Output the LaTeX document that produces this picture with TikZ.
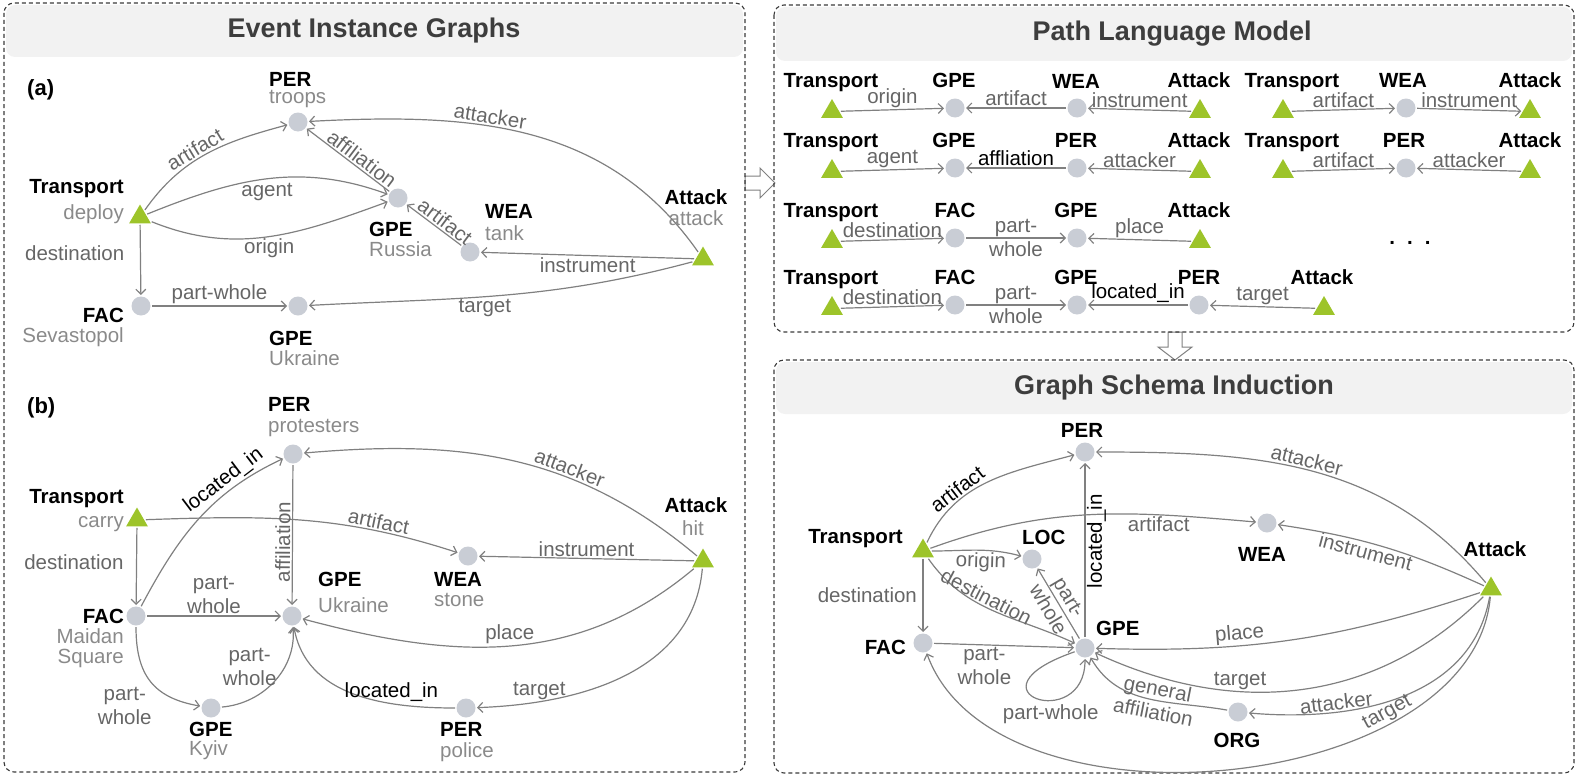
\documentclass[tikz,border=0pt]{standalone}
\usepackage{fontspec}
\setmainfont{Liberation Sans}
\usepackage{tikz}
\usetikzlibrary{arrows.meta,shapes.geometric}
\definecolor{ent_gray}{HTML}{C9CDD5}
\definecolor{evt_green}{HTML}{9DC42A}
\definecolor{edge_gray}{HTML}{808080}
\definecolor{lab_gray}{HTML}{666666}
\definecolor{inst_gray}{HTML}{8A8A8A}
\definecolor{band_gray}{HTML}{F2F2F2}
\definecolor{title_gray}{HTML}{3D3D3D}
\definecolor{frame_gray}{HTML}{3A3A3A}

\begin{document}
\begin{tikzpicture}[x=1pt,y=1pt,>={Straight Barb[length=5pt,width=10pt]},
    font=\fontsize{20.5}{24}\selectfont,
    ent/.style={circle,fill=ent_gray,inner sep=0pt,minimum size=19pt,outer sep=1.5pt},
    evt/.style={regular polygon,regular polygon sides=3,fill=evt_green,inner sep=0pt,minimum size=25pt,outer sep=1.5pt},
    typ/.style={font=\fontsize{20.5}{24}\selectfont\bfseries,inner sep=0pt},
    inst/.style={text=inst_gray,inner sep=0pt},
    rel/.style={->,draw=edge_gray,line width=1.2pt},
    rlab/.style={text=lab_gray,inner sep=1.5pt},
    rlabk/.style={text=black,inner sep=1.5pt},
    two/.style={align=center,font=\fontsize{20.5}{24}\selectfont},
    panel/.style={draw=frame_gray,line width=1.1pt,dash pattern=on 4pt off 3pt,rounded corners=10pt},
    band/.style={fill=band_gray,rounded corners=9pt},
    ttl/.style={font=\fontsize{27}{31}\selectfont\bfseries,text=title_gray},
    blk/.style={draw=edge_gray,fill=white,line width=1pt}]

        \useasboundingbox (0,0) rectangle (1578,-776);

        % Flèches entre les panneaux
        \draw[blk] (745,-176) -- (760,-176) -- (760,-168) -- (775,-183) -- (760,-198) -- (760,-190) -- (745,-190) -- cycle;
        \draw[blk] (1168,-332) -- (1182,-332) -- (1182,-347) -- (1192,-347) -- (1175,-360) -- (1158,-347) -- (1168,-347) -- cycle;

        % Panneaux et titres
        \fill[band] (6,-5) rectangle (743,-57);
        \draw[panel] (4,-3) rectangle (745,-772);
        \node[ttl] (eig_title) at (374,-31) {Event Instance Graphs};
        \fill[band] (776,-7) rectangle (1572,-61);
        \draw[panel] (774,-5) rectangle (1574,-332);
        \node[ttl] (plm_title) at (1172,-34) {Path Language Model};
        \fill[band] (776,-362) rectangle (1572,-414);
        \draw[panel] (774,-360) rectangle (1574,-773);
        \node[ttl] (gsi_title) at (1174,-388) {Graph Schema Induction};

        % Graphe (a)
        \node[typ,font=\fontsize{22}{26}\selectfont\bfseries,anchor=base west] (lab_a) at (27,-95) {(a)};
        \node[evt] (ta) at (140,-217) {};
        \node[ent] (pa) at (298,-122) {};
        \node[ent] (ga) at (398,-198) {};
        \node[ent] (wa) at (470,-252) {};
        \node[evt] (aa) at (703,-259) {};
        \node[ent] (fa) at (141,-306) {};
        \node[ent] (ua) at (298,-306) {};

        \node[typ,anchor=base east] (ta_t) at (124,-193) {Transport};
        \node[inst,anchor=base east] (ta_i) at (124,-219) {deploy};
        \node[typ,anchor=base west] (pa_t) at (269,-86) {PER};
        \node[inst,anchor=base west] (pa_i) at (269,-103) {troops};
        \node[typ,anchor=base west] (ga_t) at (369,-236) {GPE};
        \node[inst,anchor=base west] (ga_i) at (369,-256) {Russia};
        \node[typ,anchor=base west] (wa_t) at (485,-218) {WEA};
        \node[inst,anchor=base west] (wa_i) at (485,-240) {tank};
        \node[typ,anchor=base] (aa_t) at (696,-204) {Attack};
        \node[inst,anchor=base] (aa_i) at (696,-225) {attack};
        \node[typ,anchor=base east] (fa_t) at (124,-322) {FAC};
        \node[inst,anchor=base east] (fa_i) at (124,-342) {Sevastopol};
        \node[typ,anchor=base west] (ua_t) at (269,-345) {GPE};
        \node[inst,anchor=base west] (ua_i) at (269,-365) {Ukraine};

        \draw[rel] (ta) to[out=55,in=195] node[rlab,sloped,above,pos=0.45] {artifact} (pa);
        \draw[rel] (ta) to[out=22,in=160] node[rlab,below=2pt,pos=0.5] {agent} (ga);
        \draw[rel] (ta) to[out=-22,in=200] node[rlab,below,pos=0.5] {origin} (ga);
        \draw[rel] (ga) -- node[rlab,sloped,above,pos=0.4] {affiliation} (pa);
        \draw[rel] (wa) -- node[rlab,sloped,above,pos=0.4] {artifact} (ga);
        \draw[rel] (aa) -- node[rlab,below] {instrument} (wa);
        \draw[rel] (aa) to[out=125,in=3] node[rlab,sloped,above,pos=0.6] {attacker} (pa);
        \draw[rel] (aa) to[out=195,in=3] node[rlab,below,pos=0.55] {target} (ua);
        \draw[rel] (ta) -- node[rlab,left=14pt,pos=0.4] {destination} (fa);
        \draw[rel] (fa) -- node[rlab,above] {part-whole} (ua);

        % Graphe (b)
        \node[typ,font=\fontsize{22}{26}\selectfont\bfseries,anchor=base west] (lab_b) at (27,-413) {(b)};
        \node[ent] (pb) at (293,-454) {};
        \node[evt] (tb) at (137,-520) {};
        \node[ent] (wb) at (468,-556) {};
        \node[evt] (ab) at (703,-561) {};
        \node[ent] (gb) at (292,-616) {};
        \node[ent] (fb) at (136,-616) {};
        \node[ent] (kb) at (211,-708) {};
        \node[ent] (lb) at (466,-708) {};

        \node[typ,anchor=base west] (pb_t) at (268,-411) {PER};
        \node[inst,anchor=base west] (pb_i) at (268,-432) {protesters};
        \node[typ,anchor=base east] (tb_t) at (124,-503) {Transport};
        \node[inst,anchor=base east] (tb_i) at (124,-527) {carry};
        \node[typ,anchor=base] (ab_t) at (696,-512) {Attack};
        \node[inst,anchor=base] (ab_i) at (693,-535) {hit};
        \node[typ,anchor=base west] (wb_t) at (434,-586) {WEA};
        \node[inst,anchor=base west] (wb_i) at (434,-606) {stone};
        \node[typ,anchor=base west] (gb_t) at (318,-586) {GPE};
        \node[inst,anchor=base west] (gb_i) at (318,-612) {Ukraine};
        \node[typ,anchor=base east] (fb_t) at (124,-623) {FAC};
        \node[inst,anchor=base east] (fb_i) at (124,-643) {Maidan};
        \node[inst,anchor=base east] (fb_j) at (124,-663) {Square};
        \node[typ,anchor=base west] (kb_t) at (189,-736) {GPE};
        \node[inst,anchor=base west] (kb_i) at (189,-755) {Kyiv};
        \node[typ,anchor=base west] (lb_t) at (440,-736) {PER};
        \node[inst,anchor=base west] (lb_i) at (440,-757) {police};

        \draw[rel] (fb) to[out=62,in=205] node[rlabk,sloped,above,pos=0.72] {located\_in} (pb);
        \draw[rel] (tb) -- node[rlab,left=11pt,pos=0.45] {destination} (fb);
        \draw[rel] (tb) to[out=2,in=162] node[rlab,sloped,above,pos=0.75] {artifact} (wb);
        \draw[rel] (ab) -- node[rlab,above] {instrument} (wb);
        \draw[rel] (ab) to[out=140,in=5] node[rlab,sloped,above,pos=0.36] {attacker} (pb);
        \draw[rel] (pb) -- node[rlab,sloped,above,pos=0.55] {affiliation} (gb);
        \draw[rel] (fb) -- node[rlab,two,above] {part-\\whole} (gb);
        \draw[rel] (fb) to[out=-90,in=170,looseness=1.2] node[rlab,two,below left,pos=0.55] {part-\\whole} (kb);
        \draw[rel] (kb) to[out=5,in=-85] node[rlab,two,left=6pt,pos=0.65] {part-\\whole} (gb);
        \draw[rel] (ab) to[out=220,in=-15] node[rlab,above,pos=0.5] {place} (gb);
        \draw[rel] (ab) to[out=-95,in=2] node[rlab,above,pos=0.8] {target} (lb);
        \draw[rel] (lb) to[out=180,in=-80] node[rlabk,above,pos=0.3] {located\_in} (gb);

        % Chemins du modèle de langage
        \node[evt] (r1t) at (832,-111.5) {};
        \node[ent] (r1g) at (955,-108) {};
        \node[ent] (r1w) at (1077,-108) {};
        \node[evt] (r1a) at (1200,-111.5) {};
        \node[evt] (r1t2) at (1283,-111.5) {};
        \node[ent] (r1w2) at (1406,-108) {};
        \node[evt] (r1a2) at (1530,-111.5) {};
        \node[typ,anchor=base] (r1t_t) at (831,-87) {Transport};
        \node[typ,anchor=base] (r1g_t) at (954,-87) {GPE};
        \node[typ,anchor=base] (r1w_t) at (1076,-88) {WEA};
        \node[typ,anchor=base] (r1a_t) at (1199,-87) {Attack};
        \node[typ,anchor=base] (r1t2_t) at (1292,-87) {Transport};
        \node[typ,anchor=base] (r1w2_t) at (1403,-87) {WEA};
        \node[typ,anchor=base] (r1a2_t) at (1530,-87) {Attack};
        \draw[rel] (r1t) -- node[rlab,above] {origin} (r1g);
        \draw[rel] (r1w) -- node[rlab,above] {artifact} (r1g);
        \draw[rel] (r1a) -- node[rlab,above] {instrument} (r1w);
        \draw[rel] (r1t2) -- node[rlab,above] {artifact} (r1w2);
        \draw[rel] (r1w2) -- node[rlab,above] {instrument} (r1a2);

        \node[evt] (r2t) at (832,-171.5) {};
        \node[ent] (r2g) at (955,-168) {};
        \node[ent] (r2p) at (1077,-168) {};
        \node[evt] (r2a) at (1200,-171.5) {};
        \node[evt] (r2t2) at (1283,-171.5) {};
        \node[ent] (r2p2) at (1406,-168) {};
        \node[evt] (r2a2) at (1530,-171.5) {};
        \node[typ,anchor=base] (r2t_t) at (831,-147) {Transport};
        \node[typ,anchor=base] (r2g_t) at (954,-147) {GPE};
        \node[typ,anchor=base] (r2p_t) at (1076,-147) {PER};
        \node[typ,anchor=base] (r2a_t) at (1199,-147) {Attack};
        \node[typ,anchor=base] (r2t2_t) at (1292,-147) {Transport};
        \node[typ,anchor=base] (r2p2_t) at (1404,-147) {PER};
        \node[typ,anchor=base] (r2a2_t) at (1530,-147) {Attack};
        \draw[rel] (r2t) -- node[rlab,above] {agent} (r2g);
        \draw[rel] (r2p) -- node[rlabk,above] {affliation} (r2g);
        \draw[rel] (r2a) -- node[rlab,above] {attacker} (r2p);
        \draw[rel] (r2t2) -- node[rlab,above] {artifact} (r2p2);
        \draw[rel] (r2a2) -- node[rlab,above] {attacker} (r2p2);

        \node[evt] (r3t) at (832,-241.5) {};
        \node[ent] (r3f) at (955,-238) {};
        \node[ent] (r3g) at (1077,-238) {};
        \node[evt] (r3a) at (1200,-241.5) {};
        \node[typ,anchor=base] (r3t_t) at (831,-217) {Transport};
        \node[typ,anchor=base] (r3f_t) at (955,-217) {FAC};
        \node[typ,anchor=base] (r3g_t) at (1076,-217) {GPE};
        \node[typ,anchor=base] (r3a_t) at (1199,-217) {Attack};
        \draw[rel] (r3t) -- node[rlab,above] {destination} (r3f);
        \draw[rel] (r3f) -- node[rlab,two] {part-\\whole} (r3g);
        \draw[rel] (r3a) -- node[rlab,above] {place} (r3g);
        \node[typ] (r3_more) at (1410,-243) {.\hspace{12pt}.\hspace{12pt}.};

        \node[evt] (r4t) at (832,-308.5) {};
        \node[ent] (r4f) at (955,-305) {};
        \node[ent] (r4g) at (1077,-305) {};
        \node[ent] (r4p) at (1199,-305) {};
        \node[evt] (r4a) at (1324,-308.5) {};
        \node[typ,anchor=base] (r4t_t) at (831,-284) {Transport};
        \node[typ,anchor=base] (r4f_t) at (955,-284) {FAC};
        \node[typ,anchor=base] (r4g_t) at (1076,-284) {GPE};
        \node[typ,anchor=base] (r4p_t) at (1199,-284) {PER};
        \node[typ,anchor=base] (r4a_t) at (1322,-284) {Attack};
        \draw[rel] (r4t) -- node[rlab,above] {destination} (r4f);
        \draw[rel] (r4f) -- node[rlab,two] {part-\\whole} (r4g);
        \draw[rel] (r4p) -- node[rlabk,above] {located\_in} (r4g);
        \draw[rel] (r4a) -- node[rlab,above] {target} (r4p);

        % Schéma de graphe induit
        \node[ent] (pg) at (1085,-452) {};
        \node[evt] (tg) at (923,-551) {};
        \node[ent] (lg) at (1032,-559) {};
        \node[ent] (wg) at (1267,-523) {};
        \node[evt] (ag) at (1491,-589) {};
        \node[ent] (gg) at (1085,-648) {};
        \node[ent] (fg) at (923,-643) {};
        \node[ent] (rg) at (1238,-712) {};

        \node[typ,anchor=base] (pg_t) at (1082,-437) {PER};
        \node[typ,anchor=base east] (tg_t) at (903,-543) {Transport};
        \node[typ,anchor=base west] (lg_t) at (1022,-544) {LOC};
        \node[typ,anchor=base] (wg_t) at (1262,-561) {WEA};
        \node[typ,anchor=base] (ag_t) at (1495,-556) {Attack};
        \node[typ,anchor=base west] (gg_t) at (1096,-635) {GPE};
        \node[typ,anchor=base east] (fg_t) at (906,-654) {FAC};
        \node[typ,anchor=base] (rg_t) at (1237,-747) {ORG};

        \draw[rel] (tg) to[out=65,in=195] node[rlabk,sloped,above,pos=0.33] {artifact} (pg);
        \draw[rel] (tg) to[out=20,in=175] node[rlab,below,pos=0.72] {artifact} (wg);
        \draw[rel] (tg) to[out=0,in=165] node[rlab,sloped,below,pos=0.55] {origin} (lg);
        \draw[rel] (tg) -- node[rlab,left=4pt] {destination} (fg);
        \draw[rel] (tg) to[out=-55,in=155] node[rlab,sloped,above,pos=0.42] {destination} (gg);
        \draw[rel] (gg) -- node[rlab,two,sloped] {part-\\whole} (lg);
        \draw[rel] (gg) -- node[rlabk,sloped,below,pos=0.55] {located\_in} (pg);
        \draw[rel] (fg) -- node[rlab,two,below,pos=0.36] {part-\\whole} (gg);
        \draw[rel] (gg.200) .. controls +(-115,-40) and +(0,-75) .. (gg.south) node[rlab,below=2pt,pos=0.62] {part-whole};
        \draw[rel] (ag) to[out=130,in=0] node[rlab,sloped,above,pos=0.52] {attacker} (pg);
        \draw[rel] (ag) to[bend right=8] node[rlab,sloped,below,pos=0.58] {instrument} (wg);
        \draw[rel] (ag) to[bend left=10] node[rlab,sloped,above,pos=0.64] {place} (gg);
        \draw[rel] (ag) to[out=225,in=-25] node[rlab,above,pos=0.65] {target} (gg);
        \draw[rel] (rg) to[out=170,in=-60] node[rlab,two,sloped,pos=0.45] {general\\affiliation} (gg);
        \draw[rel] (ag) to[out=-100,in=-5] node[rlab,sloped,above,pos=0.72] {attacker} (rg);
        \draw[rel] (ag) to[out=-95,in=-70,looseness=0.9] node[rlab,sloped,above,pos=0.27] {target} (fg);
    \end{tikzpicture}
\end{document}
